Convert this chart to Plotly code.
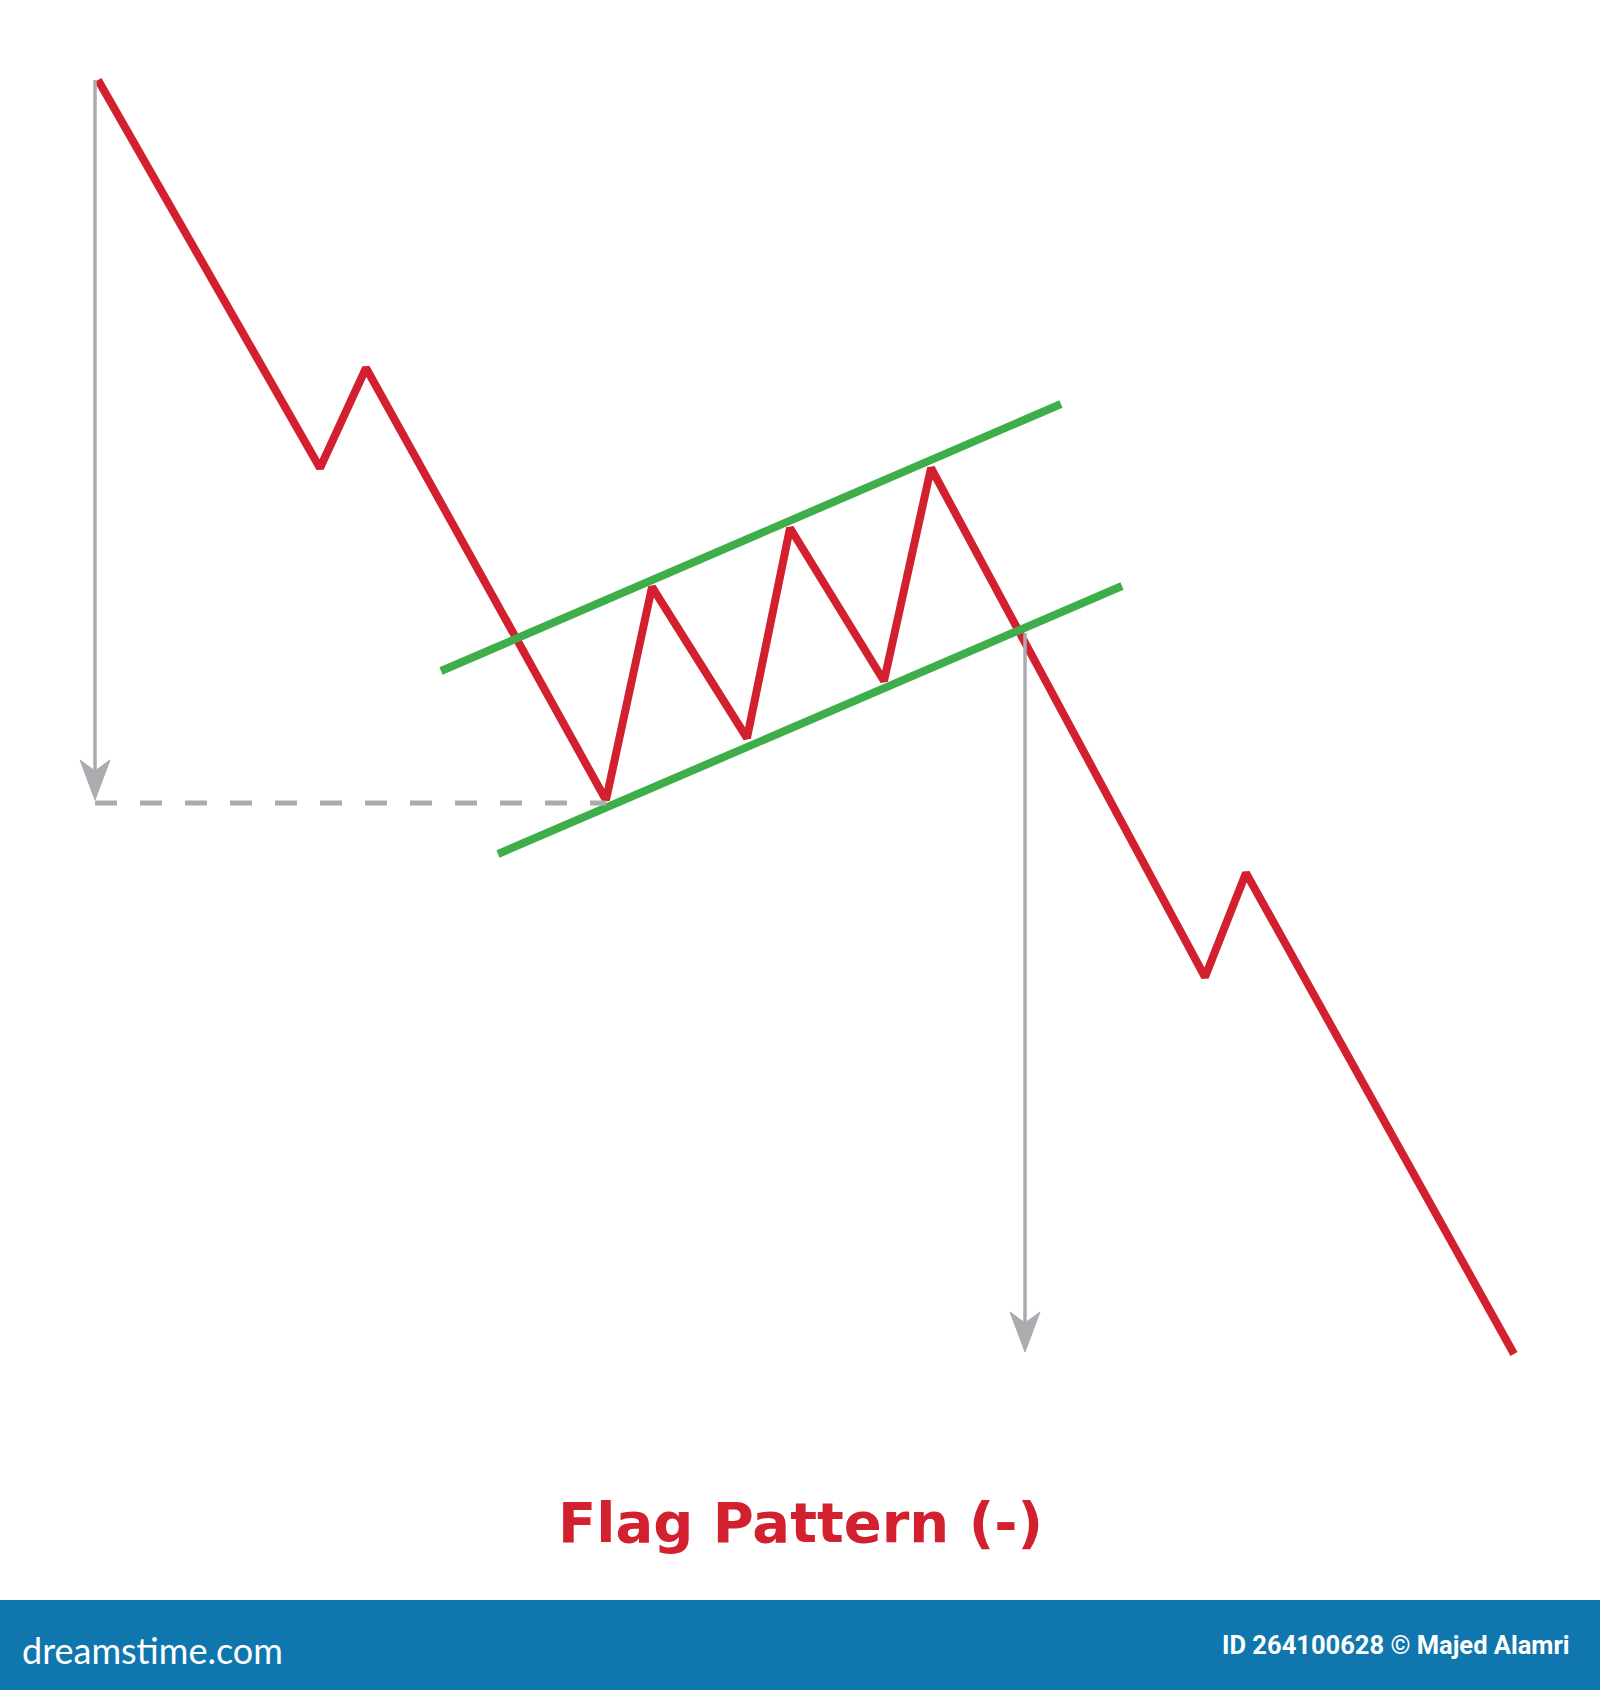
import plotly.graph_objects as go

# ---- data (time axis in px-like units, price axis upward) ----
H = 1690
path_time = [98, 320, 366, 606, 652, 747, 790, 884, 931, 1205, 1246, 1514]
path_price_px = [80, 468, 368, 800, 587, 738, 528, 681, 468, 977, 873, 1354]

upper_time = [441, 1061]
upper_price_px = [671, 404]
lower_time = [498, 1122]
lower_price_px = [854, 586]

left_arrow_time = [95, 95]
left_arrow_px = [80, 800]
right_arrow_time = [1025, 1025]
right_arrow_px = [633, 1352]

dash_time = [95, 606]
dash_px = [803, 803]

title_text = "Flag Pattern (-)"
credit_text = "ID 264100628 © Majed Alamri"
logo_text = "dreamstime.com"

RED = "#D2202E"
GREEN = "#3DAE49"
GRAY = "#ABABB0"
BLUE = "#1077AE"


def p(vals):
    return [H - v for v in vals]


fig = go.Figure()

fig.add_trace(go.Scatter(x=path_time, y=p(path_price_px), mode="lines",
                         line=dict(color=RED, width=8), hoverinfo="skip"))
fig.add_trace(go.Scatter(x=upper_time, y=p(upper_price_px), mode="lines",
                         line=dict(color=GREEN, width=8), hoverinfo="skip"))
fig.add_trace(go.Scatter(x=lower_time, y=p(lower_price_px), mode="lines",
                         line=dict(color=GREEN, width=8), hoverinfo="skip"))

fig.add_trace(go.Scatter(x=dash_time, y=p(dash_px), mode="lines",
                         line=dict(color=GRAY, width=5, dash="22px,23px"), hoverinfo="skip"))

HEAD_LEN, HEAD_HALF, NOTCH = 40, 15, 29
for tx, ty in [(left_arrow_time, left_arrow_px), (right_arrow_time, right_arrow_px)]:
    fig.add_trace(go.Scatter(x=tx, y=p([ty[0], ty[1] - 20]), mode="lines",
                             line=dict(color=GRAY, width=3.5), hoverinfo="skip"))
    x0 = tx[1]
    tip = H - ty[1]
    hx = [x0, x0 - HEAD_HALF, x0, x0 + HEAD_HALF, x0]
    hy = [tip, tip + HEAD_LEN, tip + NOTCH, tip + HEAD_LEN, tip]
    fig.add_trace(go.Scatter(x=hx, y=hy, mode="lines", fill="toself",
                             fillcolor=GRAY, line=dict(color=GRAY, width=1),
                             hoverinfo="skip"))

# bottom bar
fig.add_shape(type="rect", xref="paper", yref="paper", x0=0, x1=1,
              y0=0, y1=90 / H, fillcolor=BLUE, line=dict(width=0), layer="below")

fig.add_annotation(x=800, y=H - 1522, xref="x", yref="y", text=title_text,
                   showarrow=False, xanchor="center", yanchor="middle",
                   font=dict(family="DejaVu Sans", size=56, color=RED, weight=700))
fig.add_annotation(x=1572, y=H - 1645, xref="x", yref="y", text=credit_text,
                   showarrow=False, xanchor="right", yanchor="middle",
                   font=dict(family="Roboto", size=25.5, color="white", weight=700))
fig.add_annotation(x=20, y=H - 1650, xref="x", yref="y", text=logo_text,
                   showarrow=False, xanchor="left", yanchor="middle",
                   font=dict(family="Lato", size=36, color="white"))

fig.update_layout(
    width=1600, height=1690,
    margin=dict(l=0, r=0, t=0, b=0),
    paper_bgcolor="white", plot_bgcolor="white",
    showlegend=False,
    xaxis=dict(range=[0, 1600], visible=False, fixedrange=True),
    yaxis=dict(range=[0, H], visible=False, fixedrange=True),
)

fig.write_html("out.html", config={"displayModeBar": False},
               post_script="document.body.style.margin='0';document.body.style.overflow='hidden';")
